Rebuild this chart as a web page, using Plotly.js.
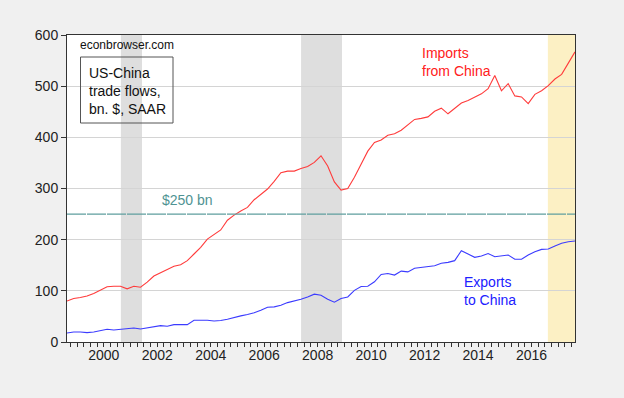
<!DOCTYPE html>
<html>
<head>
<meta charset="utf-8">
<script src="https://cdn.plot.ly/plotly-3.0.1.min.js"></script>
<style>html,body{margin:0;padding:0;background:#f0f0f0;}#chart{width:624px;height:398px;}</style>
</head>
<body>
<div id="chart"></div>
<script>
// Quarterly observations, first quarter 1999Q1 (plotted at mid-quarter)
const firstQuarter = 1999.125;
const importsFromChina = [80,85,87,90,95,102,108,109,109,104,109,107,117,129,135,142,148,151,159,172,
  185,201,210,219,238,248,256,263,278,289,299,314,331,334,334,339,343,351,364,344,
  313,297,300,322,348,373,390,395,404,407,414,425,435,437,440,451,457,446,456,467,
  472,479,485,495,521,491,505,481,479,466,484,491,501,514,523,545,567];
const exportsToChina = [17.6,19.6,19.6,18.4,19.6,22,25,23.5,25,26,27.5,25.5,27.5,30,32,30.8,34,34,34,42.5,
  43,42.5,41,42,44.5,48.4,51,53.7,57,62,68,68.6,72,77,79.8,83.7,88,93.5,91.5,83.7,
  77.8,85,88,101,108.6,109,117.6,132,134,130.8,138.6,137,144,146,147,149,154,155.6,159,178.5,
  172,165.5,168,173,166.7,168.6,170,161.6,161.6,170,176.5,181,181.8,187.6,193,196,197.5];
const tickYears = [2000,2002,2004,2006,2008,2010,2012,2014,2016];
const tickLabels = ['2000','2002','2004','2006','2008','2010','2012','2014','2016'];
const recessionStart = [2001.14, 2007.88];
const recessionEnd = [2001.93, 2009.41];
const highlightStart = 2017.11;
const referenceLevel = 250;

const xs = importsFromChina.map((_, i) => firstQuarter + 0.25 * i);
const xMin = xs[0], xMax = xs[xs.length - 1];

const L = 67, R = 49, T = 35, B = 56, W = 624, H = 398;
const pw = W - L - R, ph = H - T - B;
const px = x => (x - L) / pw;
const py = y => (H - B - y) / ph;

const font = 'Arial, "Liberation Sans", sans-serif';

const traces = [
  {x: xs, y: importsFromChina, type: 'scatter', mode: 'lines',
   line: {color: '#ff3b3b', width: 1.1}, hoverinfo: 'skip'},
  {x: xs, y: exportsToChina, type: 'scatter', mode: 'lines',
   line: {color: '#3b3bff', width: 1.1}, hoverinfo: 'skip'}
];

const shapes = [];
recessionStart.forEach((s, i) => {
  shapes.push({type: 'rect', xref: 'x', yref: 'paper', x0: s, x1: recessionEnd[i], y0: 0, y1: 1,
    fillcolor: '#dedede', line: {width: 0}, layer: 'below'});
});
shapes.push({type: 'rect', xref: 'x', yref: 'paper', x0: highlightStart, x1: xMax, y0: 0, y1: 1,
  fillcolor: '#fcf0c4', line: {width: 0}, layer: 'below'});
shapes.push({type: 'line', xref: 'paper', yref: 'y', x0: 0, x1: 1, y0: referenceLevel, y1: referenceLevel,
  line: {color: '#5f9e9e', width: 1.1, dash: '19px,1px'}});
shapes.push({type: 'rect', xref: 'paper', yref: 'paper', x0: px(80.5), x1: px(173), y0: py(57), y1: py(123),
  fillcolor: 'rgba(255,255,255,0)', line: {color: '#555555', width: 1}});

const annotations = [
  {xref: 'paper', yref: 'paper', x: px(78), y: py(44.5), xanchor: 'left', yanchor: 'middle',
   text: 'econbrowser.com', showarrow: false, font: {family: font, size: 12, color: '#111'}},
  {xref: 'paper', yref: 'paper', x: px(87), y: py(90.5), xanchor: 'left', yanchor: 'middle', align: 'left',
   text: 'US-China<br>trade flows,<br>bn. $, SAAR', showarrow: false, font: {family: font, size: 14, color: '#111'}},
  {xref: 'paper', yref: 'paper', x: px(160), y: py(200), xanchor: 'left', yanchor: 'middle',
   text: '$250 bn', showarrow: false, font: {family: font, size: 14, color: '#4f9393'}},
  {xref: 'paper', yref: 'paper', x: px(420), y: py(62), xanchor: 'left', yanchor: 'middle', align: 'left',
   text: 'Imports<br>from China', showarrow: false, font: {family: font, size: 14, color: '#ff2020'}},
  {xref: 'paper', yref: 'paper', x: px(462), y: py(291), xanchor: 'left', yanchor: 'middle', align: 'left',
   text: 'Exports<br>to China', showarrow: false, font: {family: font, size: 14, color: '#2020ff'}}
];

const layout = {
  width: W, height: H,
  margin: {l: L, r: R, t: T, b: B, pad: 0},
  paper_bgcolor: '#f0f0f0', plot_bgcolor: '#ffffff',
  showlegend: false,
  font: {family: font, size: 14, color: '#222'},
  xaxis: {
    range: [xMin, xMax], showgrid: false, zeroline: false,
    tickvals: tickYears.map(y => y + 0.5), ticktext: tickLabels,
    ticks: 'outside', ticklen: 0, tickfont: {family: font, size: 14, color: '#222'},
    showline: true, linecolor: '#333', linewidth: 1, mirror: true,
    minor: {tick0: 1999, dtick: 0.25, ticks: 'outside', ticklen: 4, tickcolor: '#333', showgrid: false}
  },
  yaxis: {
    range: [0, 600], dtick: 100, tick0: 0,
    showgrid: true, gridcolor: '#d4d4d4', gridwidth: 1, zeroline: false,
    ticks: 'outside', ticklen: 5, tickcolor: '#333',
    tickfont: {family: font, size: 14, color: '#222'},
    showline: true, linecolor: '#333', linewidth: 1, mirror: true
  },
  shapes: shapes,
  annotations: annotations
};

Plotly.newPlot('chart', traces, layout, {staticPlot: true, displayModeBar: false});
</script>
</body>
</html>
